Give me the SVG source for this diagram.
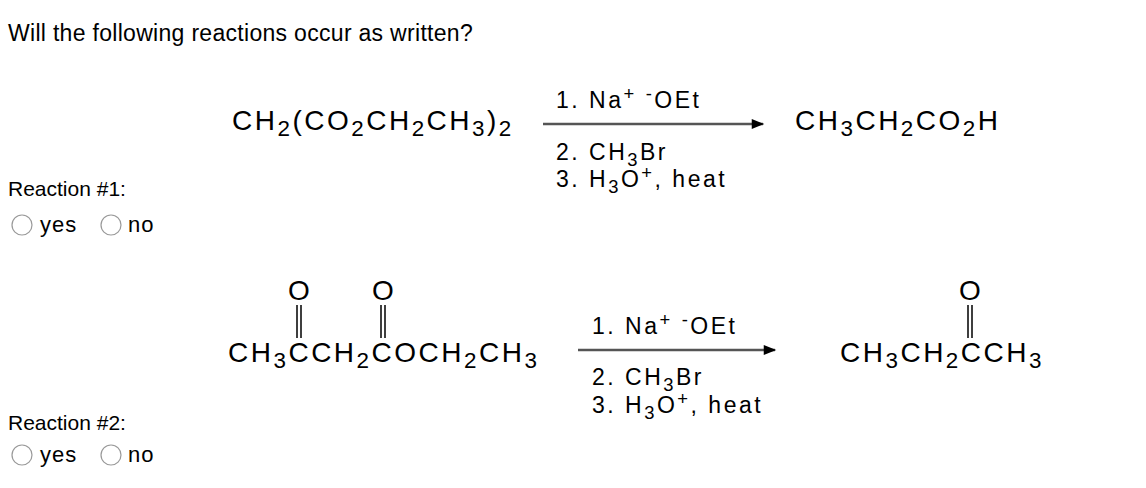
<svg xmlns="http://www.w3.org/2000/svg" width="1146" height="488" viewBox="0 0 1146 488">
<style>
text{font-family:"Liberation Sans",Arial,sans-serif;fill:#000}
.q{font-size:23px;letter-spacing:0.3px}
.lab{font-size:21px}
.yn{font-size:22px;letter-spacing:1px}
.f{font-size:28px;letter-spacing:2.5px}
.r{font-size:23px;letter-spacing:2.5px}
.s{font-size:80%}
.radio{fill:#fff;stroke:#999;stroke-width:1.2}
.bond{stroke:#000;stroke-width:1.5}
.arr{stroke:#555;stroke-width:2.5;fill:none}
</style>
<defs><marker id="ah" viewBox="0 0 10 10" refX="9" refY="5" markerWidth="8" markerHeight="5" markerUnits="strokeWidth" orient="auto"><path d="M0,1 L10,5 L0,9 Z" fill="#000"/></marker></defs>
<rect width="1146" height="488" fill="#fff"/>
<text class="q" x="8" y="41">Will the following reactions occur as written?</text>
<g id="q1">
<text class="lab" x="8" y="196">Reaction #1:</text>
<circle class="radio" cx="22" cy="225" r="10"/><text class="yn" x="40" y="232">yes</text>
<circle class="radio" cx="111" cy="225" r="10"/><text class="yn" x="128" y="232">no</text>
</g>
<g id="q2">
<text class="lab" x="8" y="430">Reaction #2:</text>
<circle class="radio" cx="22" cy="455" r="10"/><text class="yn" x="40" y="462">yes</text>
<circle class="radio" cx="111" cy="455" r="10"/><text class="yn" x="128" y="462">no</text>
</g>
<g id="r1-reactant"><text class="f" x="232" y="130">CH<tspan class="s" dy="6">2</tspan><tspan dy="-6">(CO</tspan><tspan class="s" dy="6">2</tspan><tspan dy="-6">CH</tspan><tspan class="s" dy="6">2</tspan><tspan dy="-6">CH</tspan><tspan class="s" dy="6">3</tspan><tspan dy="-6">)</tspan><tspan class="s" dy="6">2</tspan></text></g>
<g id="r1-reagents">
<text class="r" x="556" y="108">1. Na<tspan class="s" dy="-8">+</tspan><tspan dy="8"> </tspan><tspan class="s" dy="-8">-</tspan><tspan dy="8">OEt</tspan></text>
<text class="r" x="556" y="160">2. CH<tspan class="s" dy="6">3</tspan><tspan dy="-6">Br</tspan></text>
<text class="r" x="556" y="187">3. H<tspan class="s" dy="6">3</tspan><tspan dy="-6">O</tspan><tspan class="s" dy="-8">+</tspan><tspan dy="8">, heat</tspan></text>
</g>
<g id="r1-product"><text class="f" x="795" y="130">CH<tspan class="s" dy="6">3</tspan><tspan dy="-6">CH</tspan><tspan class="s" dy="6">2</tspan><tspan dy="-6">CO</tspan><tspan class="s" dy="6">2</tspan><tspan dy="-6">H</tspan></text></g>
<g id="r2-reactant">
<text class="f" x="228" y="362">CH<tspan class="s" dy="6">3</tspan><tspan dy="-6">CCH</tspan><tspan class="s" dy="6">2</tspan><tspan dy="-6">COCH</tspan><tspan class="s" dy="6">2</tspan><tspan dy="-6">CH</tspan><tspan class="s" dy="6">3</tspan></text>
<text class="f" x="299" y="300" text-anchor="middle" style="letter-spacing:0">O</text>
<text class="f" x="383" y="300" text-anchor="middle" style="letter-spacing:0">O</text>
<path class="bond" d="M297,305 V338 M301,305 V338 M381,305 V338 M385,305 V338"/>
</g>
<g id="r2-reagents">
<text class="r" x="592" y="334">1. Na<tspan class="s" dy="-8">+</tspan><tspan dy="8"> </tspan><tspan class="s" dy="-8">-</tspan><tspan dy="8">OEt</tspan></text>
<text class="r" x="592" y="385">2. CH<tspan class="s" dy="6">3</tspan><tspan dy="-6">Br</tspan></text>
<text class="r" x="592" y="413">3. H<tspan class="s" dy="6">3</tspan><tspan dy="-6">O</tspan><tspan class="s" dy="-8">+</tspan><tspan dy="8">, heat</tspan></text>
</g>
<g id="r2-product">
<text class="f" x="840" y="362">CH<tspan class="s" dy="6">3</tspan><tspan dy="-6">CH</tspan><tspan class="s" dy="6">2</tspan><tspan dy="-6">CCH</tspan><tspan class="s" dy="6">3</tspan></text>
<text class="f" x="970" y="300" text-anchor="middle" style="letter-spacing:0">O</text>
<path class="bond" d="M968,305 V338 M972,305 V338"/>
</g>
<g id="connectors">
<line class="arr" x1="543" y1="124" x2="763" y2="124" marker-end="url(#ah)"/>
<line class="arr" x1="578" y1="350" x2="775" y2="350" marker-end="url(#ah)"/>
</g>
</svg>
